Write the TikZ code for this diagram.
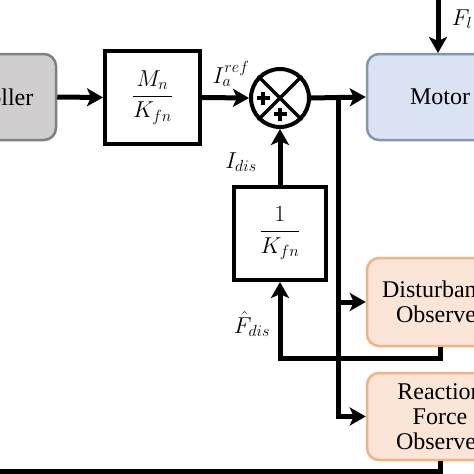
\documentclass[tikz,border=0pt]{standalone}
\usepackage{fix-cm}
\usepackage{amsmath}
\usepackage{fontspec}
\setmainfont{Liberation Serif}
\usetikzlibrary{arrows.meta}
\definecolor{ctrlfill}{HTML}{D0CECE}
\definecolor{ctrlline}{HTML}{808080}
\definecolor{motfill}{HTML}{DAE3F3}
\definecolor{motline}{HTML}{8497B0}
\definecolor{obsfill}{HTML}{FBE5D6}
\definecolor{obsline}{HTML}{F4B183}
\newcommand\diagfont{\fontsize{24}{25}\selectfont}
\newcommand\mathsz{\fontsize{23}{25}\selectfont}
\tikzset{
  sig/.style={line width=5pt, -{Stealth[length=16pt,width=18pt,inset=4pt]}},
  wire/.style={line width=5pt},
  gainbox/.style={draw, line width=4pt, fill=white, inner sep=0pt, font=\mathsz},
  rbox/.style={rounded corners=12pt, line width=2.5pt, inner sep=0pt, align=center, font=\diagfont},
  sumnode/.style={circle, draw, line width=4pt, minimum size=58pt, inner sep=0pt},
  lbl/.style={font=\mathsz, inner sep=0pt}
}
\begin{document}
\begin{tikzpicture}[x=1pt,y=-1pt]
\useasboundingbox (0,0) rectangle (474,474);
\clip (0,0) rectangle (474,474);
% blocks
\node[rbox, draw=ctrlline, fill=ctrlfill, minimum width=144pt, minimum height=86pt] (ctrl) at (-16,97) {Controller};
\node[gainbox, minimum width=95pt, minimum height=93pt] (gm) at (152.5,97.5) {$\dfrac{M_n}{K_{fn}}$};
\node[sumnode] (sum) at (280,98) {};
\node[gainbox, minimum width=92pt, minimum height=93pt] (gk) at (280,233.5) {$\dfrac{1}{K_{fn}}$};
\node[rbox, draw=motline, fill=motfill, minimum width=146pt, minimum height=86pt] (motor) at (440,97) {Motor};
\node[rbox, draw=obsline, fill=obsfill, minimum width=146pt, minimum height=88pt] (dob) at (440,302) {Disturbance\\Observer};
\node[rbox, draw=obsline, fill=obsfill, minimum width=146pt, minimum height=87pt] (rfo) at (440,416.5) {Reaction\\Force\\Observer};
% sum internals
\draw[line width=3.5pt] (sum.north west) -- (sum.south east);
\draw[line width=3.5pt] (sum.north east) -- (sum.south west);
\foreach \px/\py in {263/98, 280/114}{
  \draw[line width=4.5pt] (\px-6.5,\py) -- (\px+6.5,\py);
  \draw[line width=4.5pt] (\px,\py-6.5) -- (\px,\py+6.5);
}
% coordinates
\coordinate (jn) at (338,98);
\coordinate (jd) at (338,302);
\coordinate (jr) at (338,416.5);
\coordinate (dobc) at (440,358);
\coordinate (fdc) at (280,358);
\coordinate (rfoc) at (440,471);
\coordinate (leftend) at (-10,471);
\coordinate (fltop) at (438,-5);
% connectors
\draw[sig] (ctrl.east) -- (gm.west);
\draw[sig] (gm.east) -- (sum.west);
\draw[sig] (sum.east) -- (motor.west);
\draw[wire] (jn) -- (jr);
\draw[sig] ([xshift=-2.5pt]jr) -- (rfo.west);
\draw[sig] (jd) -- (dob.west);
\draw[sig] (dob.south) -- (dobc) -- (fdc) -- (gk.south);
\draw[sig] (gk.north) -- (sum.south);
\draw[wire] (rfo.south) -- (rfoc) -- (leftend);
\draw[sig] (fltop) -- (438,53);
% labels
\node[lbl] (lref) at (231,74) {$I_a^{ref}$};
\node[lbl] (ldis) at (241,162) {$I_{dis}$};
\node[lbl] (lfd) at (252,324) {$\hat{F}_{dis}$};
\node[lbl] (lfl) at (462,19) {$F_l$};
\end{tikzpicture}
\end{document}
